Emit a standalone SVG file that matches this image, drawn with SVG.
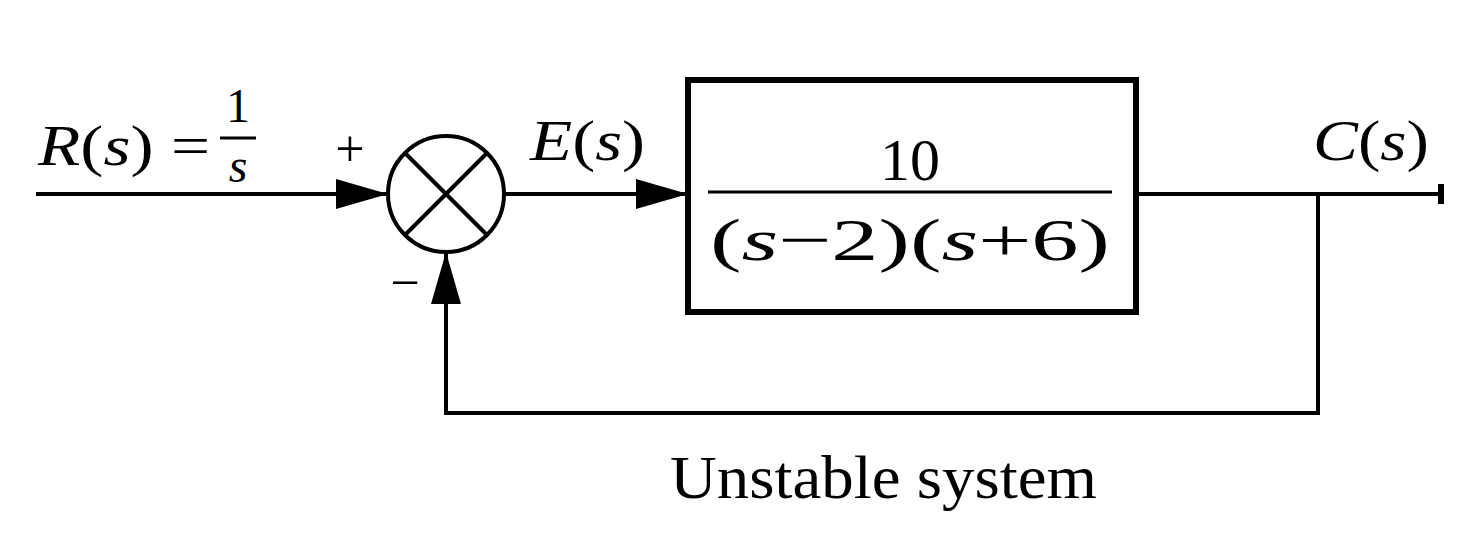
<svg xmlns="http://www.w3.org/2000/svg" width="1482" height="558" viewBox="0 0 1482 558">
<style>
.l{stroke:#000;stroke-width:4;fill:none}
.t{font-family:"Liberation Serif",serif;fill:#000}
.i{font-style:italic}
</style>
<defs><marker id="b" markerWidth="52" markerHeight="30" refX="52" refY="15" orient="auto" markerUnits="userSpaceOnUse"><path d="M0,0 L52,15 L0,30 Z" fill="#000"/></marker></defs>
<rect width="1482" height="558" fill="#fff"/>
<g id="connectors">
<path class="l" d="M36,194 H388" marker-end="url(#b)"/>
<path class="l" d="M505,194 H688" marker-end="url(#b)"/>
<path class="l" d="M1136,194 H1442"/>
<path d="M1438,184 h6 v20 h-6z" fill="#000"/>
<path class="l" d="M1318,194 V413 H446 V252" marker-end="url(#b)"/>
</g>
<g id="sum">
<circle class="l" cx="446" cy="194" r="58"/>
<path class="l" d="M405,153 L487,235 M487,153 L405,235"/>
<text class="t" x="350" y="166" font-size="52" text-anchor="middle">+</text>
<text class="t" x="405" y="300" font-size="52" text-anchor="middle">−</text>
</g>
<g id="block">
<rect x="688" y="80" width="448" height="232" fill="none" stroke="#000" stroke-width="6"/>
<text class="t" x="910" y="180" font-size="60" text-anchor="middle">10</text>
<path d="M708,192 H1112" stroke="#000" stroke-width="3"/>
<text class="t" x="710" y="260" font-size="60" textLength="400" lengthAdjust="spacingAndGlyphs">(<tspan class="i">s</tspan>−2)(<tspan class="i">s</tspan>+6)</text>
</g>
<g id="labels">
<text class="t i" x="38" y="165" font-size="56" textLength="172" lengthAdjust="spacingAndGlyphs">R<tspan font-style="normal">(</tspan>s<tspan font-style="normal">) =</tspan></text>
<text class="t" x="238" y="122" font-size="48" text-anchor="middle">1</text>
<path d="M220,138 H256" stroke="#000" stroke-width="3"/>
<text class="t i" x="238" y="182" font-size="48" text-anchor="middle">s</text>
<text class="t i" x="530" y="160" font-size="56" textLength="115" lengthAdjust="spacingAndGlyphs">E<tspan font-style="normal">(</tspan>s<tspan font-style="normal">)</tspan></text>
<text class="t i" x="1313" y="160" font-size="56" textLength="116" lengthAdjust="spacingAndGlyphs">C<tspan font-style="normal">(</tspan>s<tspan font-style="normal">)</tspan></text>
<text class="t" x="670" y="498" font-size="62" textLength="427" lengthAdjust="spacingAndGlyphs">Unstable system</text>
</g>
</svg>
